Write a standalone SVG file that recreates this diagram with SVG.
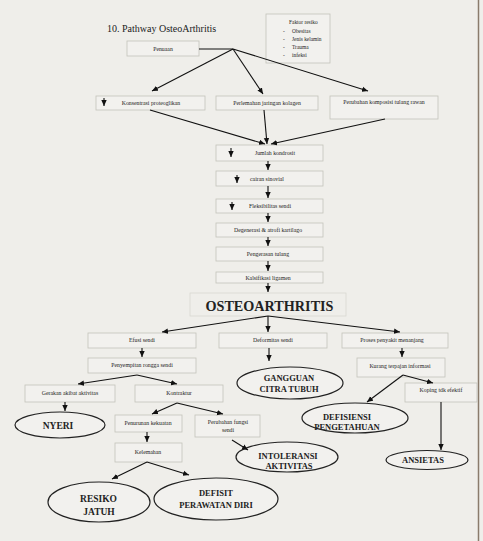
<svg xmlns="http://www.w3.org/2000/svg" width="483" height="541" viewBox="0 0 483 541">
<defs>
<marker id="ah" viewBox="0 0 10 10" refX="10" refY="5" markerWidth="6" markerHeight="6" orient="auto" markerUnits="userSpaceOnUse">
<path d="M0,0.5 L10,5 L0,9.5 z" fill="#111"/>
</marker>
<style>
text{font-family:"Liberation Serif","Times New Roman",serif;fill:#222}
.box{fill:#f2f1ee;stroke:#c4c3bb;stroke-width:0.8}
.ell{fill:#f2f1ee;stroke:#222;stroke-width:1.2}
.s{font-size:5.8px;text-anchor:middle}
.fk{font-size:5.4px}
.b{font-size:8.5px;font-weight:bold;text-anchor:middle}
.big{font-size:9.5px;font-weight:bold;text-anchor:middle}
.c line,.c path{stroke:#111;stroke-width:1.1;fill:none}
.a{marker-end:url(#ah)}
</style>
</defs>
<rect width="483" height="541" fill="#efeeea"/>
<line x1="478.5" y1="0" x2="478.5" y2="541" stroke="#8a7b6c" stroke-width="1.5"/>

<text id="title" x="107" y="32" font-size="10">10. Pathway OsteoArthritis</text>

<g id="penuaan"><rect class="box" x="127" y="41" width="72" height="15"/><text class="s" x="163" y="50.5">Penuaan</text></g>
<g id="faktor"><rect class="box" x="266" y="14" width="64" height="49"/>
<text class="fk" x="289" y="24">Faktor resiko</text>
<text class="fk" x="283" y="33">-</text><text class="fk" x="292" y="33">Obesitas</text>
<text class="fk" x="283" y="41">-</text><text class="fk" x="292" y="41">Jenis kelamin</text>
<text class="fk" x="283" y="49">-</text><text class="fk" x="292" y="49">Trauma</text>
<text class="fk" x="283" y="57">-</text><text class="fk" x="292" y="57">infeksi</text></g>

<g id="konsentrasi"><rect class="box" x="96" y="96" width="109" height="14"/><text class="s" x="151" y="104.5">Konsentrasi proteoglikan</text></g>
<g id="perlemahan"><rect class="box" x="216" y="96" width="102" height="14"/><text class="s" x="267" y="104.5">Perlemahan jaringan kolagen</text></g>
<g id="perubahan-komposisi"><rect class="box" x="330" y="96" width="108" height="23"/><text class="s" x="384" y="104">Perubahan komposisi tulang rawan</text></g>

<g id="jumlah"><rect class="box" x="216" y="145" width="107" height="16"/><text class="s" x="275" y="154.5">Jumlah kondrosit</text></g>
<g id="cairan"><rect class="box" x="216" y="171" width="107" height="15"/><text class="s" x="267" y="180.5">cairan sinovial</text></g>
<g id="fleksibilitas"><rect class="box" x="216" y="199" width="107" height="14"/><text class="s" x="270" y="207.5">Fleksibilitas sendi</text></g>
<g id="degenerasi"><rect class="box" x="216" y="223" width="107" height="14"/><text class="s" x="268" y="232">Degenerasi &amp; atrofi kartilago</text></g>
<g id="pengerasan"><rect class="box" x="216" y="247" width="107" height="14"/><text class="s" x="268" y="256">Pengerasan tulang</text></g>
<g id="kalsifikasi"><rect class="box" x="216" y="272" width="107" height="11"/><text class="s" x="268" y="279.5">Kalsifikasi ligamen</text></g>
<g id="osteoarthritis"><rect x="190" y="293" width="156" height="23" fill="none" stroke="#d6d5cf" stroke-width="0.7"/><text x="269.5" y="310.5" font-size="14.2" font-weight="bold" text-anchor="middle" fill="#111">OSTEOARTHRITIS</text></g>

<g id="efusi"><rect class="box" x="88" y="333" width="108" height="15"/><text class="s" x="142" y="342">Efusi sendi</text></g>
<g id="deformitas"><rect class="box" x="219" y="333" width="108" height="15"/><text class="s" x="273" y="342">Deformitas sendi</text></g>
<g id="proses"><rect class="box" x="342" y="333" width="106" height="15"/><text class="s" x="392" y="342">Proses penyakit menanjang</text></g>
<g id="penyempitan"><rect class="box" x="88" y="358" width="108" height="15"/><text class="s" x="142" y="367">Penyempitan rongga sendi</text></g>
<g id="gangguan"><ellipse class="ell" cx="290" cy="383" rx="53" ry="16"/><text class="b" x="289" y="381">GANGGUAN</text><text class="b" x="289" y="392">CITRA TUBUH</text></g>
<g id="kurang"><rect class="box" x="357" y="358" width="88" height="19"/><text class="s" x="400" y="367.5">Kurang terpajan informasi</text></g>
<g id="gerakan"><rect class="box" x="25" y="385" width="90" height="17"/><text class="s" x="70" y="394.5">Gerakan akibat aktivitas</text></g>
<g id="kontraktur"><rect class="box" x="135" y="385" width="88" height="17"/><text class="s" x="179" y="394.5">Kontraktur</text></g>
<g id="koping"><rect class="box" x="405" y="383" width="72" height="19"/><text class="s" x="441" y="391.5">Koping tdk efektif</text></g>
<g id="nyeri"><ellipse class="ell" cx="60" cy="425" rx="45" ry="13"/><text class="big" x="58" y="428.5">NYERI</text></g>
<g id="penurunan"><rect class="box" x="115" y="415" width="67" height="17"/><text class="s" x="148" y="425">Penurunan kekuatan</text></g>
<g id="perubahan-fungsi"><rect class="box" x="195" y="415" width="65" height="22"/><text class="s" x="228" y="424">Perubahan fungsi</text><text class="s" x="228" y="432">sendi</text></g>
<g id="defisiensi"><ellipse class="ell" cx="355" cy="418" rx="53" ry="15"/><text class="b" x="347" y="419.5">DEFISIENSI</text><text class="b" x="347" y="430" font-size="9.3">PENGETAHUAN</text></g>
<g id="kelemahan"><rect class="box" x="115" y="443" width="67" height="19"/><text class="s" x="148" y="454">Kelemahan</text></g>
<g id="intoleransi"><ellipse class="ell" cx="287" cy="457" rx="51" ry="15"/><text class="b" x="288" y="458.5">INTOLERANSI</text><text class="b" x="289" y="469">AKTIVITAS</text></g>
<g id="ansietas"><ellipse class="ell" cx="427" cy="460" rx="41" ry="9.5"/><text class="b" x="423" y="463">ANSIETAS</text></g>
<g id="resiko"><ellipse class="ell" cx="99" cy="502" rx="51" ry="20"/><text class="big" x="98.5" y="501.5">RESIKO</text><text class="big" x="99" y="514.5">JATUH</text></g>
<g id="defisit"><ellipse class="ell" cx="216" cy="499" rx="62" ry="21"/><text class="b" x="216" y="496">DEFISIT</text><text class="b" x="216" y="508">PERAWATAN DIRI</text></g>

<g id="connectors" class="c">
<line x1="199" y1="49" x2="233" y2="49"/>
<line class="a" x1="233" y1="49" x2="152" y2="91"/>
<line class="a" x1="233" y1="49" x2="263" y2="94"/>
<line class="a" x1="233" y1="49" x2="368" y2="91"/>
<line class="a" x1="150" y1="110" x2="265" y2="144"/>
<line class="a" x1="264" y1="110" x2="267" y2="144"/>
<line class="a" x1="385" y1="119" x2="271" y2="144"/>
<line class="a" x1="268" y1="161" x2="268" y2="170"/>
<line class="a" x1="268" y1="186" x2="268" y2="198"/>
<line class="a" x1="268" y1="213" x2="268" y2="222"/>
<line class="a" x1="268" y1="237" x2="268" y2="246"/>
<line class="a" x1="268" y1="261" x2="268" y2="271"/>
<line class="a" x1="268" y1="283" x2="268" y2="292"/>
<line class="a" x1="268" y1="316" x2="162" y2="332"/>
<line class="a" x1="268" y1="316" x2="268" y2="332"/>
<line class="a" x1="268" y1="316" x2="400" y2="332"/>
<line class="a" x1="142" y1="348" x2="142" y2="357"/>
<line class="a" x1="269" y1="348" x2="269" y2="361"/>
<line class="a" x1="402" y1="348" x2="402" y2="357"/>
<line class="a" x1="137" y1="375" x2="78" y2="384"/>
<line class="a" x1="137" y1="375" x2="177" y2="384"/>
<line class="a" x1="65" y1="402" x2="65" y2="411"/>
<line class="a" x1="177" y1="403" x2="152" y2="414"/>
<line class="a" x1="177" y1="403" x2="223" y2="414"/>
<line class="a" x1="147" y1="432" x2="147" y2="442"/>
<line class="a" x1="232" y1="440" x2="248" y2="450"/>
<line class="a" x1="147" y1="462" x2="112" y2="479"/>
<line class="a" x1="147" y1="462" x2="189" y2="475"/>
<line class="a" x1="403" y1="375" x2="433" y2="383"/>
<line class="a" x1="403" y1="375" x2="367" y2="402"/>
<line class="a" x1="441" y1="402" x2="441" y2="450"/>
<line class="a" x1="104" y1="98" x2="104" y2="106"/>
<line class="a" x1="231" y1="148" x2="231" y2="157"/>
<line class="a" x1="237" y1="175" x2="237" y2="183"/>
<line class="a" x1="232" y1="202" x2="232" y2="210"/>
</g>
</svg>
